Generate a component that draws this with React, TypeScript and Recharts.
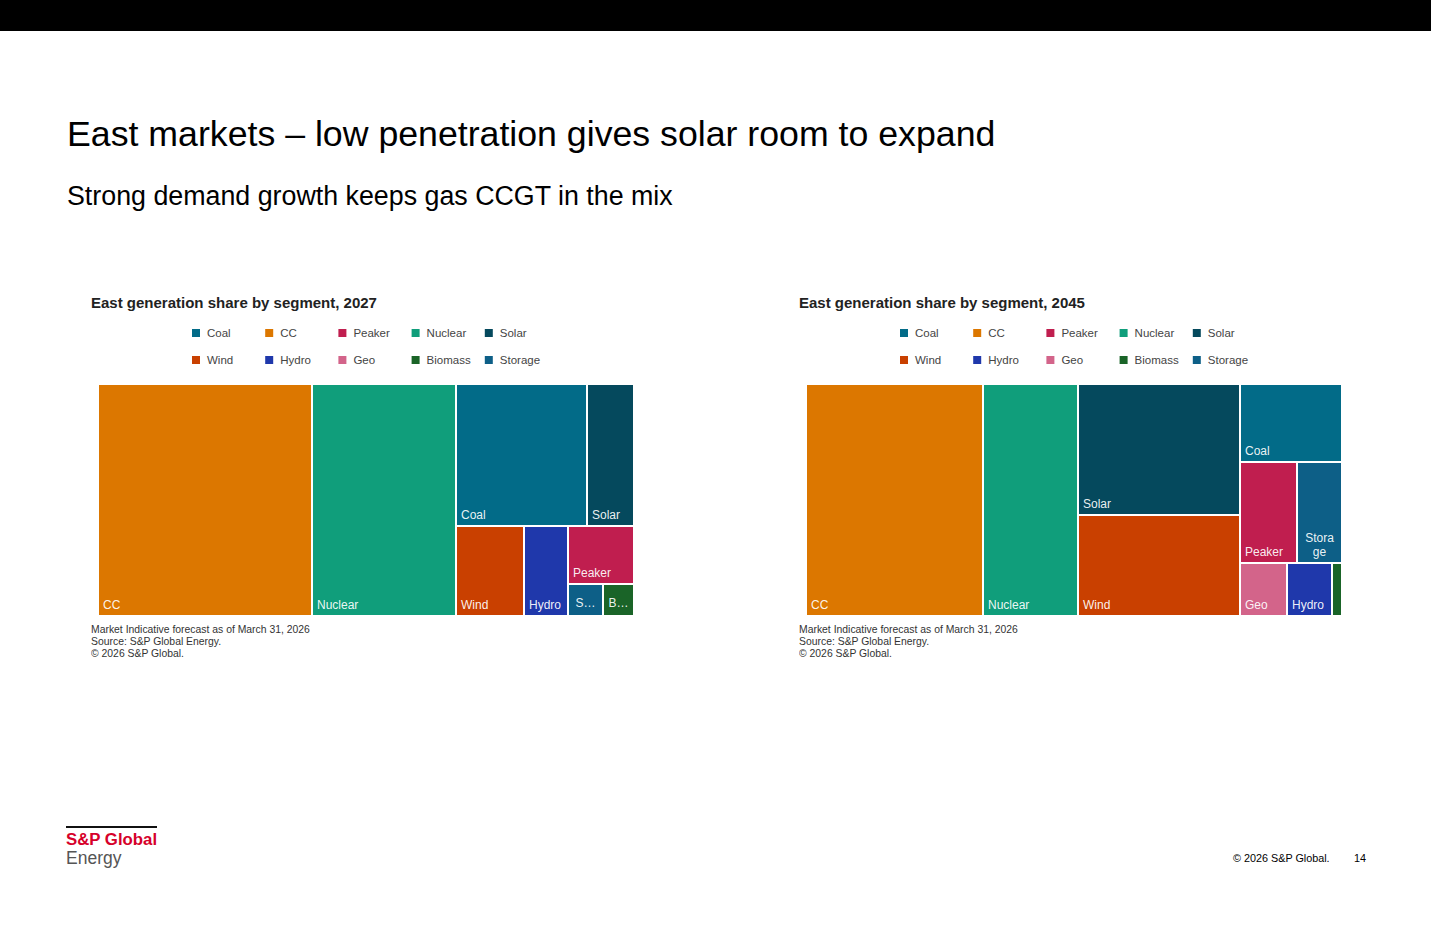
import React from 'react'
import { Treemap } from 'recharts'

const segments = ['Coal', 'CC', 'Peaker', 'Nuclear', 'Solar', 'Wind', 'Hydro', 'Geo', 'Biomass', 'Storage']

// generation share by segment (%)
const share2027 = [14.9, 40.0, 3.1, 26.9, 5.4, 4.9, 3.2, 0, 0.8, 0.9]
const share2045 = [6.4, 33.0, 4.6, 17.8, 17.1, 13.1, 1.9, 2.0, 0.4, 3.7]

// how segments are grouped into blocks in each treemap
type Block = string | Block[]
const blocks2027: Block[] = ['CC', 'Nuclear', ['Coal', 'Solar'], ['Wind', 'Hydro', ['Peaker', ['Storage', 'Biomass']]]]
const blocks2045: Block[] = ['CC', 'Nuclear', ['Solar', 'Wind'], 'Coal', ['Peaker', 'Storage'], 'Geo', 'Hydro', 'Biomass']

const footnotes = [
  'Market Indicative forecast as of March 31, 2026',
  'Source: S&P Global Energy.',
  '© 2026 S&P Global.',
]

const segmentColors: Record<string, string> = {
  Coal: '#026b88',
  CC: '#dc7700',
  Peaker: '#c01e4f',
  Nuclear: '#109e7b',
  Solar: '#05495d',
  Wind: '#c94000',
  Hydro: '#1f38ab',
  Geo: '#d3648a',
  Biomass: '#1a6428',
  Storage: '#0d5f87',
}

const FONT = '"Liberation Sans", Arial, Helvetica, sans-serif'
const LABEL_FONT = `12px ${FONT}`

interface TreeNode {
  name: string
  value?: number
  children?: TreeNode[]
}

function buildNode(block: Block, values: number[]): TreeNode {
  if (typeof block === 'string') {
    return { name: block, value: values[segments.indexOf(block)] }
  }
  return { name: '', children: block.map((b) => buildNode(b, values)) }
}

let measureCtx: CanvasRenderingContext2D | null = null
function textWidth(s: string) {
  if (!measureCtx) measureCtx = document.createElement('canvas').getContext('2d')
  if (!measureCtx) return s.length * 6.5
  measureCtx.font = LABEL_FONT
  return measureCtx.measureText(s).width
}

function renderCell(props: any) {
  const { x, y, width, height, name } = props
  const color = segmentColors[name]
  if (!color || !(width > 0) || !(height > 0)) return null

  const textProps = { fill: '#ffffff', fillOpacity: 0.93, fontSize: 12, fontFamily: FONT }
  let label: React.ReactNode = null
  const w = textWidth(name)
  if (w <= width - 10) {
    label = (
      <text x={x + 5} y={y + height - 7} {...textProps}>
        {name}
      </text>
    )
  } else if (width >= 20 && height >= 45) {
    // wrap letter by letter, centred
    const lines: string[] = []
    let cur = ''
    for (const ch of name) {
      if (cur && textWidth(cur + ch) > width - 12) {
        lines.push(cur)
        cur = ch
      } else cur += ch
    }
    lines.push(cur)
    label = lines.map((ln, i) => (
      <text key={i} x={x + width / 2} y={y + height - 7 - (lines.length - 1 - i) * 14} textAnchor="middle" {...textProps}>
        {ln}
      </text>
    ))
  } else if (width >= 20) {
    let t = name
    while (t.length > 1 && textWidth(t + '…') > width - 14) t = t.slice(0, -1)
    label = (
      <text x={x + width / 2} y={y + height - 9} textAnchor="middle" {...textProps}>
        {t + '…'}
      </text>
    )
  }

  return (
    <g>
      <rect x={x} y={y} width={width} height={height} fill={color} stroke="#ffffff" strokeWidth={2} />
      {label}
    </g>
  )
}

interface PanelProps {
  left: number
  title: string
  values: number[]
  blocks: Block[]
}

function ChartPanel({ left, title, values, blocks }: PanelProps) {
  const data = blocks.map((b) => buildNode(b, values))
  return (
    <>
      <svg width={560} height={380} style={{ position: 'absolute', left, top: 290 }}>
        <text x={0} y={18} fontFamily={FONT} fontSize={15} fontWeight="bold" fill="#222">
          {title}
        </text>
        {segments.map((s, i) => {
          const col = i % 5
          const row = Math.floor(i / 5)
          const sx = 101 + col * 73.2
          const sy = 39 + row * 27
          return (
            <g key={s}>
              <rect x={sx} y={sy} width={8} height={8} fill={segmentColors[s]} />
              <text x={sx + 15} y={sy + 8} fontFamily={FONT} fontSize={11.5} fill="#444">
                {s}
              </text>
            </g>
          )
        })}
        {footnotes.map((f, i) => (
          <text key={i} x={0} y={343 + i * 12} fontFamily={FONT} fontSize={10.4} fill="#333">
            {f}
          </text>
        ))}
      </svg>
      <div style={{ position: 'absolute', left: left + 7, top: 384 }}>
        <Treemap
          width={536}
          height={232}
          data={data}
          dataKey="value"
          nameKey="name"
          aspectRatio={1}
          isAnimationActive={false}
          content={renderCell}
        />
      </div>
    </>
  )
}

export default function App() {
  return (
    <div
      style={{
        position: 'absolute',
        left: 0,
        top: 0,
        width: 1431,
        height: 925,
        background: '#ffffff',
        overflow: 'hidden',
      }}
    >
      <svg width={1431} height={925} style={{ position: 'absolute', left: 0, top: 0 }}>
        <rect x={0} y={0} width={1431} height={31} fill="#000" />
        <text x={67} y={146} fontFamily={FONT} fontSize={35.7} fill="#000">
          East markets – low penetration gives solar room to expand
        </text>
        <text x={67} y={205} fontFamily={FONT} fontSize={26.8} fill="#000">
          Strong demand growth keeps gas CCGT in the mix
        </text>
        <rect x={66} y={826} width={91} height={2} fill="#111" />
        <text x={66} y={845} fontFamily={FONT} fontSize={16.8} fontWeight="bold" fill="#d6002a">
          S&amp;P Global
        </text>
        <text x={66} y={864} fontFamily={FONT} fontSize={17.5} fill="#555">
          Energy
        </text>
        <text x={1233} y={862} fontFamily={FONT} fontSize={10.8} fill="#000">
          © 2026 S&amp;P Global.
        </text>
        <text x={1354} y={862} fontFamily={FONT} fontSize={10.8} fill="#000">
          14
        </text>
      </svg>
      <ChartPanel left={91} title="East generation share by segment, 2027" values={share2027} blocks={blocks2027} />
      <ChartPanel left={799} title="East generation share by segment, 2045" values={share2045} blocks={blocks2045} />
    </div>
  )
}
